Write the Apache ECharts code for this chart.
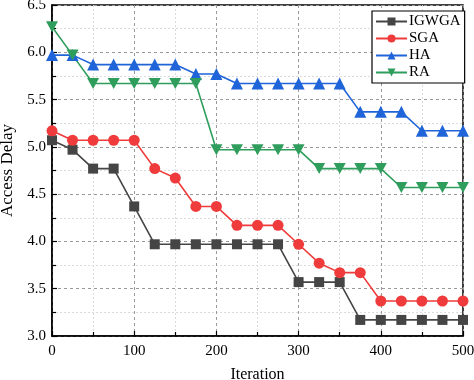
<!DOCTYPE html>
<html>
<head>
<meta charset="utf-8">
<script src="https://cdn.jsdelivr.net/npm/echarts@6/dist/echarts.min.js"></script>
<style>html,body{margin:0;padding:0;background:#fff;}#c{width:474px;height:380px;}</style>
</head>
<body>
<div id="c"></div>
<script>
const iterations = [0,25,50,75,100,125,150,175,200,225,250,275,300,325,350,375,400,425,450,475,500];
const igwga = [5.07,4.97,4.77,4.77,4.37,3.97,3.97,3.97,3.97,3.97,3.97,3.97,3.57,3.57,3.57,3.17,3.17,3.17,3.17,3.17,3.17];
const sga   = [5.17,5.07,5.07,5.07,5.07,4.77,4.67,4.37,4.37,4.17,4.17,4.17,3.97,3.77,3.67,3.67,3.37,3.37,3.37,3.37,3.37];
const ha    = [5.97,5.97,5.87,5.87,5.87,5.87,5.87,5.77,5.77,5.67,5.67,5.67,5.67,5.67,5.67,5.37,5.37,5.37,5.17,5.17,5.17];
const ra    = [6.27,5.97,5.67,5.67,5.67,5.67,5.67,5.67,4.97,4.97,4.97,4.97,4.97,4.77,4.77,4.77,4.77,4.57,4.57,4.57,4.57];
const seriesNames = ['IGWGA','SGA','HA','RA'];
const seriesData = [igwga, sga, ha, ra];
const colors = ['#454545','#ef3b3b','#1f64d8','#2f9d5c'];
const symbols = ['rect','circle','triangle','path://M0,0 L10,0 L5,9 Z'];
const symbolSizes = [10,11,12,[12,11]];

const FONT = 'Liberation Serif';
const chart = echarts.init(document.getElementById('c'), null, {renderer:'canvas'});
chart.setOption({
  animation:false,
  backgroundColor:'#fff',
  grid:{left:52,right:11,top:5,bottom:44,outerBoundsMode:'none',containLabel:false,show:true,borderColor:'#000',borderWidth:1.5,backgroundColor:'transparent'},
  legend:{
    left:372, top:11, orient:'vertical',
    backgroundColor:'#fff', borderColor:'#000', borderWidth:1.2,
    padding:[3,4,3,3], itemGap:2, itemWidth:31, itemHeight:10,
    textStyle:{fontFamily:FONT,fontSize:15,color:'#000',padding:[0,0,0,-3]},
    data:seriesNames
  },
  xAxis:{
    type:'value', min:0, max:500, interval:100,
    name:'Iteration', nameLocation:'middle', nameGap:31,
    nameTextStyle:{fontFamily:FONT,fontSize:16,color:'#000'},
    axisLine:{lineStyle:{color:'#000',width:1.5}},
    axisTick:{inside:true,length:5,lineStyle:{color:'#000',width:1.2}},
    minorTick:{show:true,splitNumber:2,length:4,lineStyle:{color:'#000',width:1.2}},
    axisLabel:{fontFamily:FONT,fontSize:15,color:'#000',margin:8},
    splitLine:{show:true,lineStyle:{color:'#9a9a9a',type:[3,3],width:1}},
    minorSplitLine:{show:true,lineStyle:{color:'#dcdcdc',type:[2,2],width:1}}
  },
  yAxis:{
    type:'value', min:3.0, max:6.5, interval:0.5,
    name:'Access Delay', nameLocation:'middle', nameGap:34,
    nameTextStyle:{fontFamily:FONT,fontSize:17,color:'#000'},
    axisLine:{show:true,lineStyle:{color:'#000',width:1.5}},
    axisTick:{show:true,inside:true,length:5,lineStyle:{color:'#000',width:1.2}},
    minorTick:{show:true,splitNumber:2,length:4,lineStyle:{color:'#000',width:1.2}},
    axisLabel:{fontFamily:FONT,fontSize:15,color:'#000',margin:6,formatter:v=>v.toFixed(1)},
    splitLine:{show:true,lineStyle:{color:'#9a9a9a',type:[3,3],width:1}},
    minorSplitLine:{show:true,lineStyle:{color:'#dcdcdc',type:[2,2],width:1}}
  },
  series: seriesNames.map((n,i)=>({
    name:n, type:'line',
    data: iterations.map((x,j)=>[x, seriesData[i][j]]),
    symbol: symbols[i], symbolSize: symbolSizes[i],
    showAllSymbol:true,
    itemStyle:{color:colors[i]},
    lineStyle:{color:colors[i],width:1.6}
  }))
});
</script>
</body>
</html>
